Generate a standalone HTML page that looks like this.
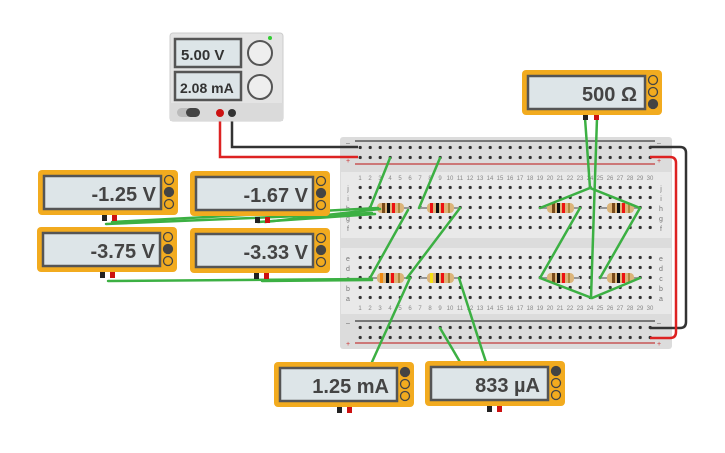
<!DOCTYPE html>
<html><head><meta charset="utf-8"><style>
html,body{margin:0;padding:0;background:#fff;}
svg{display:block;font-family:"Liberation Sans",sans-serif;}
</style></head><body>
<svg width="725" height="453" viewBox="0 0 725 453" xmlns="http://www.w3.org/2000/svg">
<defs>
<pattern id="h" x="356" y="3" width="10" height="10" patternUnits="userSpaceOnUse">
<circle cx="4.2" cy="4.5" r="1.6" fill="#333"/>
</pattern>
<g id="meter">
<rect x="0" y="0" width="140" height="45" rx="4" fill="#f2ab1f"/>
<rect x="6" y="6" width="117" height="33" fill="#dde5e8" stroke="#555" stroke-width="2.5"/>
<circle cx="131" cy="10" r="4.5" fill="none" stroke="#444" stroke-width="1.3"/>
<circle cx="131" cy="22" r="4.5" fill="none" stroke="#444" stroke-width="1.3"/>
<circle cx="131" cy="34" r="4.5" fill="none" stroke="#444" stroke-width="1.3"/>
</g>
</defs>

<!-- breadboard -->
<rect x="340" y="137" width="332" height="212" rx="3" fill="#dcdcdc"/>
<rect x="341" y="172" width="330" height="66" fill="#e9e9e9"/>
<rect x="341" y="248" width="330" height="66" fill="#e9e9e9"/>
<line x1="355" y1="141" x2="655" y2="141" stroke="#777" stroke-width="2"/>
<line x1="355" y1="164" x2="655" y2="164" stroke="#c77" stroke-width="2"/>
<line x1="355" y1="321" x2="655" y2="321" stroke="#777" stroke-width="2"/>
<line x1="355" y1="343" x2="655" y2="343" stroke="#c77" stroke-width="2"/>
<rect x="356" y="143" width="300" height="20" fill="url(#h)"/>
<rect x="356" y="183" width="300" height="50" fill="url(#h)"/>
<rect x="356" y="253" width="300" height="50" fill="url(#h)"/>
<rect x="356" y="323" width="300" height="20" fill="url(#h)"/>
<g font-size="7" fill="#666">
<text x="346" y="145">–</text><text x="346" y="163" fill="#c33">+</text>
<text x="657" y="145">–</text><text x="657" y="163" fill="#c33">+</text>
<text x="346" y="325">–</text><text x="346" y="346" fill="#c33">+</text>
<text x="657" y="325">–</text><text x="657" y="346" fill="#c33">+</text>
</g>
<g font-size="7" fill="#777" text-anchor="middle">
<text x="348" y="191">j</text><text x="348" y="201">i</text><text x="348" y="211">h</text><text x="348" y="221">g</text><text x="348" y="231">f</text>
<text x="348" y="261">e</text><text x="348" y="271">d</text><text x="348" y="281">c</text><text x="348" y="291">b</text><text x="348" y="301">a</text>
<text x="661" y="191">j</text><text x="661" y="201">i</text><text x="661" y="211">h</text><text x="661" y="221">g</text><text x="661" y="231">f</text>
<text x="661" y="261">e</text><text x="661" y="271">d</text><text x="661" y="281">c</text><text x="661" y="291">b</text><text x="661" y="301">a</text>
</g>
<g font-size="6" fill="#888" text-anchor="middle">
<text x="360" y="180">1</text><text x="370" y="180">2</text><text x="380" y="180">3</text><text x="390" y="180">4</text><text x="400" y="180">5</text><text x="410" y="180">6</text><text x="420" y="180">7</text><text x="430" y="180">8</text><text x="440" y="180">9</text><text x="450" y="180">10</text><text x="460" y="180">11</text><text x="470" y="180">12</text><text x="480" y="180">13</text><text x="490" y="180">14</text><text x="500" y="180">15</text><text x="510" y="180">16</text><text x="520" y="180">17</text><text x="530" y="180">18</text><text x="540" y="180">19</text><text x="550" y="180">20</text><text x="560" y="180">21</text><text x="570" y="180">22</text><text x="580" y="180">23</text><text x="590" y="180">24</text><text x="600" y="180">25</text><text x="610" y="180">26</text><text x="620" y="180">27</text><text x="630" y="180">28</text><text x="640" y="180">29</text><text x="650" y="180">30</text>
<text x="360" y="310">1</text><text x="370" y="310">2</text><text x="380" y="310">3</text><text x="390" y="310">4</text><text x="400" y="310">5</text><text x="410" y="310">6</text><text x="420" y="310">7</text><text x="430" y="310">8</text><text x="440" y="310">9</text><text x="450" y="310">10</text><text x="460" y="310">11</text><text x="470" y="310">12</text><text x="480" y="310">13</text><text x="490" y="310">14</text><text x="500" y="310">15</text><text x="510" y="310">16</text><text x="520" y="310">17</text><text x="530" y="310">18</text><text x="540" y="310">19</text><text x="550" y="310">20</text><text x="560" y="310">21</text><text x="570" y="310">22</text><text x="580" y="310">23</text><text x="590" y="310">24</text><text x="600" y="310">25</text><text x="610" y="310">26</text><text x="620" y="310">27</text><text x="630" y="310">28</text><text x="640" y="310">29</text><text x="650" y="310">30</text>
</g>

<!-- power wires -->
<path d="M232,113 V147 H358" fill="none" stroke="#333" stroke-width="2.5"/>
<path d="M220,113 V157 H358" fill="none" stroke="#d22" stroke-width="2.5"/>
<path d="M650,147 H680 Q686,147 686,153 V322 Q686,328 680,328 H650" fill="none" stroke="#333" stroke-width="2.5"/>
<path d="M650,157 H670 Q676,157 676,163 V332 Q676,338 670,338 H650" fill="none" stroke="#d22" stroke-width="2.5"/>

<!-- resistors -->
<g id="res">
<line x1="370" y1="208" x2="410" y2="208" stroke="#999" stroke-width="2"/>
<rect x="377" y="203" width="27" height="10" rx="4" fill="#dcb57a"/>
<rect x="382" y="203" width="3" height="10" fill="#7a4a1a"/>
<rect x="387" y="203" width="3" height="10" fill="#111"/>
<rect x="392" y="203" width="3" height="10" fill="#e11"/>
<rect x="398" y="203" width="2" height="10" fill="#b08a40"/>
</g>
<g transform="translate(50,0)">
<line x1="370" y1="208" x2="410" y2="208" stroke="#999" stroke-width="2"/>
<rect x="377" y="203" width="27" height="10" rx="4" fill="#dcb57a"/>
<rect x="380" y="203" width="3" height="10" fill="#e11"/>
<rect x="386" y="203" width="3" height="10" fill="#111"/>
<rect x="391" y="203" width="3" height="10" fill="#e11"/>
<rect x="398" y="203" width="2" height="10" fill="#b08a40"/>
</g>
<use href="#res" transform="translate(170,0)"/>
<use href="#res" transform="translate(230,0)"/>
<g transform="translate(0,70)">
<line x1="370" y1="208" x2="410" y2="208" stroke="#999" stroke-width="2"/>
<rect x="377" y="203" width="27" height="10" rx="4" fill="#dcb57a"/>
<rect x="380" y="203" width="3" height="10" fill="#f08a10"/>
<rect x="386" y="203" width="3" height="10" fill="#111"/>
<rect x="391" y="203" width="3" height="10" fill="#e11"/>
<rect x="398" y="203" width="2" height="10" fill="#b08a40"/>
</g>
<g transform="translate(50,70)">
<line x1="370" y1="208" x2="410" y2="208" stroke="#999" stroke-width="2"/>
<rect x="377" y="203" width="27" height="10" rx="4" fill="#dcb57a"/>
<rect x="380" y="203" width="3" height="10" fill="#f5e010"/>
<rect x="386" y="203" width="3" height="10" fill="#111"/>
<rect x="391" y="203" width="3" height="10" fill="#e11"/>
<rect x="398" y="203" width="2" height="10" fill="#b08a40"/>
</g>
<use href="#res" transform="translate(170,70)"/>
<use href="#res" transform="translate(230,70)"/>

<!-- green wires -->
<g stroke="#3cb043" stroke-width="2.5" fill="none" stroke-linecap="round">
<line x1="390" y1="158" x2="370" y2="208"/>
<line x1="440" y1="158" x2="419" y2="208"/>
<line x1="460" y1="208" x2="407" y2="278"/>
<line x1="410" y1="278" x2="372" y2="362"/>
<line x1="408" y1="210" x2="370" y2="278"/>
<polyline points="459,278 482,350 486,362"/>
<polyline points="440,328 453,350 460,362"/>
<line x1="585" y1="118" x2="590" y2="188"/>
<line x1="597" y1="118" x2="591" y2="298"/>
<polyline points="540,208 590,188 640,208"/>
<polyline points="540,278 592,298 640,278"/>
<line x1="580" y1="208" x2="540" y2="278"/>
<line x1="640" y1="208" x2="600" y2="278"/>
<line x1="112" y1="222" x2="378" y2="208"/>
<line x1="106" y1="224" x2="372" y2="213"/>
<line x1="265" y1="222" x2="380" y2="209"/>
<line x1="258" y1="222" x2="375" y2="214"/>
<line x1="108" y1="281" x2="372" y2="279"/>
<line x1="262" y1="281" x2="372" y2="280"/>
</g>

<!-- power supply -->
<rect x="170" y="33" width="113" height="88" rx="3" fill="#e4e4e4" stroke="#ccc"/>
<rect x="170" y="103" width="113" height="18" fill="#dadada"/>
<rect x="175" y="39" width="66" height="28" fill="#dde5e8" stroke="#555" stroke-width="2.5"/>
<rect x="175" y="72" width="66" height="28" fill="#dde5e8" stroke="#555" stroke-width="2.5"/>
<text x="181" y="60" font-size="15" font-weight="bold" fill="#333">5.00 V</text>
<text x="180" y="93" font-size="14" font-weight="bold" fill="#333">2.08 mA</text>
<circle cx="260" cy="53" r="12" fill="#eee" stroke="#555" stroke-width="2"/>
<circle cx="260" cy="87" r="12" fill="#eee" stroke="#555" stroke-width="2"/>
<circle cx="270" cy="38" r="2" fill="#3c3"/>
<rect x="177" y="108" width="22" height="9" rx="4.5" fill="#bbb"/>
<rect x="186" y="108" width="14" height="9" rx="4.5" fill="#444"/>
<circle cx="220" cy="113" r="4" fill="#c11"/>
<circle cx="232" cy="113" r="4" fill="#333"/>

<!-- meters -->
<g transform="translate(38,170)"><use href="#meter"/><text x="118" y="31" text-anchor="end" font-size="20" font-weight="bold" fill="#444">-1.25 V</text><circle cx="131" cy="22" r="4.5" fill="#444"/></g>
<g transform="translate(190,171)"><use href="#meter"/><text x="118" y="31" text-anchor="end" font-size="20" font-weight="bold" fill="#444">-1.67 V</text><circle cx="131" cy="22" r="4.5" fill="#444"/></g>
<g transform="translate(37,227)"><use href="#meter"/><text x="118" y="31" text-anchor="end" font-size="20" font-weight="bold" fill="#444">-3.75 V</text><circle cx="131" cy="22" r="4.5" fill="#444"/></g>
<g transform="translate(190,228)"><use href="#meter"/><text x="118" y="31" text-anchor="end" font-size="20" font-weight="bold" fill="#444">-3.33 V</text><circle cx="131" cy="22" r="4.5" fill="#444"/></g>
<g transform="translate(274,362)"><use href="#meter"/><text x="115" y="31" text-anchor="end" font-size="20" font-weight="bold" fill="#444">1.25 mA</text><circle cx="131" cy="10" r="4.5" fill="#444"/></g>
<g transform="translate(425,361)"><use href="#meter"/><text x="115" y="31" text-anchor="end" font-size="20" font-weight="bold" fill="#444">833 µA</text><circle cx="131" cy="10" r="4.5" fill="#444"/></g>
<g transform="translate(522,70)"><use href="#meter"/><text x="115" y="31" text-anchor="end" font-size="20" font-weight="bold" fill="#444">500 Ω</text><circle cx="131" cy="34" r="4.5" fill="#444"/></g>

<!-- probes -->
<g>
<rect x="102" y="215" width="5" height="6" fill="#222"/><rect x="112" y="215" width="5" height="6" fill="#c11"/>
<rect x="255" y="217" width="5" height="6" fill="#222"/><rect x="265" y="217" width="5" height="6" fill="#c11"/>
<rect x="100" y="272" width="5" height="6" fill="#222"/><rect x="110" y="272" width="5" height="6" fill="#c11"/>
<rect x="254" y="273" width="5" height="6" fill="#222"/><rect x="264" y="273" width="5" height="6" fill="#c11"/>
<rect x="337" y="407" width="5" height="6" fill="#222"/><rect x="347" y="407" width="5" height="6" fill="#c11"/>
<rect x="487" y="406" width="5" height="6" fill="#222"/><rect x="497" y="406" width="5" height="6" fill="#c11"/>
<rect x="583" y="115" width="5" height="5" fill="#222"/><rect x="594" y="115" width="5" height="5" fill="#c11"/>
</g>
</svg>
</body></html>
